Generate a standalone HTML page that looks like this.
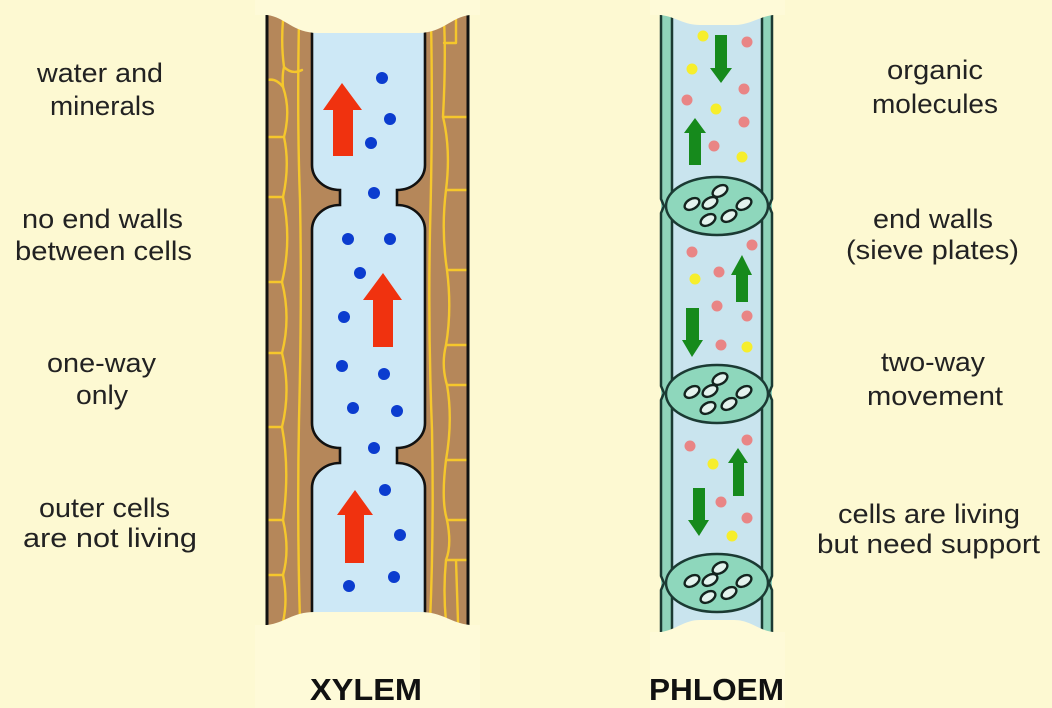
<!DOCTYPE html>
<html><head><meta charset="utf-8"><style>
html,body{margin:0;padding:0;background:#fdf9d2;}
svg{display:block;}
text{font-family:"Liberation Sans",Arial,sans-serif;}
</style></head><body>
<svg width="1052" height="708" viewBox="0 0 1052 708" xmlns="http://www.w3.org/2000/svg">
<rect x="0" y="0" width="1052" height="708" fill="#fdf9d2"/>

<!-- ============ XYLEM ============ -->
<rect x="267" y="8" width="201" height="624" fill="#b5875a"/>
<g fill="none" stroke="#f5c72c" stroke-width="2.4" stroke-linecap="round">
  <path d="M283,20 Q281,45 284,67 Q292,75 302,70 M284,67 Q282,75 283,87 Q291,110 284,137 Q290,165 283,197 Q292,240 282,282 Q291,318 282,353 Q291,390 282,427 Q290,470 283,520 Q290,550 283,575 Q288,600 283,622"/>
  <path d="M299,20 Q297,120 300,200 Q302,300 299,420 Q297,520 300,622"/>
  <path d="M268,80 Q276,78 283,87 M268,137 L284,137 M268,197 L283,197 M268,282 L282,282 M268,353 L282,353 M268,427 L282,427 M268,520 L283,520 M268,575 L283,575"/>
  <path d="M431,20 Q433,120 430,230 Q428,330 432,430 Q434,530 430,622"/>
  <path d="M444,20 Q446,60 443,117 Q451,150 446,190 Q441,230 447,270 Q452,310 446,345 Q441,365 447,385 Q453,420 446,460 Q441,500 447,520 Q452,545 446,560 Q443,590 446,622"/>
  <path d="M444,43 L456,43 M443,117 L467,117 M446,190 L467,190 M447,270 L467,270 M446,345 L467,345 M447,385 L467,385 M446,460 L467,460 M447,520 L467,520 M446,560 L467,560 M456,43 L456,20 M456,560 L458,622"/>
</g>
<path d="M312,10 L312,165 A28,25 0 0 0 340,190 L340,205 A28,25 0 0 0 312,230 L312,423 A28,25 0 0 0 340,448 L340,463 A28,25 0 0 0 312,488 L312,650 L425,650 L425,488 A28,25 0 0 0 397,463 L397,448 A28,25 0 0 0 425,423 L425,230 A28,25 0 0 0 397,205 L397,190 A28,25 0 0 0 425,165 L425,10 Z" fill="#cde8f6" stroke="#111" stroke-width="2.6"/>
<line x1="267" y1="8" x2="267" y2="632" stroke="#111" stroke-width="3"/>
<line x1="468" y1="8" x2="468" y2="632" stroke="#111" stroke-width="3"/>
<g fill="#0b3ccf">
  <circle cx="382" cy="78" r="6"/><circle cx="390" cy="119" r="6"/><circle cx="371" cy="143" r="6"/>
  <circle cx="374" cy="193" r="6"/><circle cx="348" cy="239" r="6"/><circle cx="390" cy="239" r="6"/>
  <circle cx="360" cy="273" r="6"/><circle cx="344" cy="317" r="6"/><circle cx="342" cy="366" r="6"/>
  <circle cx="384" cy="374" r="6"/><circle cx="353" cy="408" r="6"/><circle cx="397" cy="411" r="6"/>
  <circle cx="374" cy="448" r="6"/><circle cx="385" cy="490" r="6"/><circle cx="400" cy="535" r="6"/>
  <circle cx="394" cy="577" r="6"/><circle cx="349" cy="586" r="6"/>
</g>
<g fill="#f0320f">
  <polygon points="342,83 362,110 353,110 353,156 333,156 333,110 323,110"/>
  <polygon points="383,273 402,300 393,300 393,347 373,347 373,300 363,300"/>
  <polygon points="355,490 373,515 364,515 364,563 345,563 345,515 337,515"/>
</g>
<path d="M255,0 L255,15 L267,15 C285,17 293,33 318,33 L418,33 C443,33 451,17 470,15 L480,15 L480,0 Z" fill="#fefad8"/>
<path d="M255,708 L255,625 L267,625 C285,623 292,612 315,612 L420,612 C443,612 450,623 470,625 L480,625 L480,708 Z" fill="#fefad8"/>

<!-- ============ PHLOEM ============ -->
<rect x="661" y="8" width="111" height="630" fill="#8fd3ba"/>
<rect x="672" y="8" width="90" height="630" fill="#c9e4ee"/>
<g stroke="#1b3a33" stroke-width="2.5" fill="none">
  <path d="M661,8 L661,199 L664,206 L661,213 L661,386 L664,393 L661,400 L661,576 L664,583 L661,590 L661,638"/>
  <path d="M772,8 L772,199 L769,206 L772,213 L772,386 L769,393 L772,400 L772,576 L769,583 L772,590 L772,638"/>
  <line x1="672" y1="8" x2="672" y2="638"/>
  <line x1="762" y1="8" x2="762" y2="638"/>
</g>
<g stroke="#1b3a33" stroke-width="2.5" fill="#8ed7bc">
  <ellipse cx="717" cy="206" rx="51" ry="29"/>
  <ellipse cx="717" cy="394" rx="51" ry="29"/>
  <ellipse cx="717" cy="583" rx="51" ry="29"/>
</g>
<g stroke="#14241f" stroke-width="2.4" fill="#e4f3ee">
  <g transform="translate(717,206)">
    <ellipse cx="3" cy="-15" rx="8" ry="5" transform="rotate(-30 3 -15)"/>
    <ellipse cx="-25" cy="-2" rx="8" ry="5" transform="rotate(-30 -25 -2)"/>
    <ellipse cx="-7" cy="-3" rx="8" ry="5" transform="rotate(-30 -7 -3)"/>
    <ellipse cx="27" cy="-2" rx="8" ry="5" transform="rotate(-30 27 -2)"/>
    <ellipse cx="12" cy="10" rx="8" ry="5" transform="rotate(-30 12 10)"/>
    <ellipse cx="-9" cy="14" rx="8" ry="5" transform="rotate(-30 -9 14)"/>
  </g>
  <g transform="translate(717,394)">
    <ellipse cx="3" cy="-15" rx="8" ry="5" transform="rotate(-30 3 -15)"/>
    <ellipse cx="-25" cy="-2" rx="8" ry="5" transform="rotate(-30 -25 -2)"/>
    <ellipse cx="-7" cy="-3" rx="8" ry="5" transform="rotate(-30 -7 -3)"/>
    <ellipse cx="27" cy="-2" rx="8" ry="5" transform="rotate(-30 27 -2)"/>
    <ellipse cx="12" cy="10" rx="8" ry="5" transform="rotate(-30 12 10)"/>
    <ellipse cx="-9" cy="14" rx="8" ry="5" transform="rotate(-30 -9 14)"/>
  </g>
  <g transform="translate(717,583)">
    <ellipse cx="3" cy="-15" rx="8" ry="5" transform="rotate(-30 3 -15)"/>
    <ellipse cx="-25" cy="-2" rx="8" ry="5" transform="rotate(-30 -25 -2)"/>
    <ellipse cx="-7" cy="-3" rx="8" ry="5" transform="rotate(-30 -7 -3)"/>
    <ellipse cx="27" cy="-2" rx="8" ry="5" transform="rotate(-30 27 -2)"/>
    <ellipse cx="12" cy="10" rx="8" ry="5" transform="rotate(-30 12 10)"/>
    <ellipse cx="-9" cy="14" rx="8" ry="5" transform="rotate(-30 -9 14)"/>
  </g>
</g>
<g fill="#f6ee2c">
  <circle cx="703" cy="36" r="5.5"/><circle cx="692" cy="69" r="5.5"/><circle cx="716" cy="109" r="5.5"/>
  <circle cx="742" cy="157" r="5.5"/><circle cx="695" cy="279" r="5.5"/><circle cx="747" cy="347" r="5.5"/>
  <circle cx="713" cy="464" r="5.5"/><circle cx="732" cy="536" r="5.5"/>
</g>
<g fill="#e98585">
  <circle cx="747" cy="42" r="5.5"/><circle cx="744" cy="89" r="5.5"/><circle cx="687" cy="100" r="5.5"/>
  <circle cx="744" cy="122" r="5.5"/><circle cx="714" cy="146" r="5.5"/><circle cx="692" cy="252" r="5.5"/>
  <circle cx="752" cy="245" r="5.5"/><circle cx="719" cy="272" r="5.5"/><circle cx="717" cy="306" r="5.5"/>
  <circle cx="747" cy="316" r="5.5"/><circle cx="721" cy="345" r="5.5"/><circle cx="690" cy="446" r="5.5"/>
  <circle cx="747" cy="440" r="5.5"/><circle cx="721" cy="502" r="5.5"/><circle cx="747" cy="518" r="5.5"/>
</g>
<g fill="#168a1c">
  <polygon points="715,35 727,35 727,68 732,68 721,83 710,68 715,68"/>
  <polygon points="695,118 706,133 701,133 701,165 689,165 689,133 684,133"/>
  <polygon points="742,255 752,275 748,275 748,302 736,302 736,275 731,275"/>
  <polygon points="686,308 699,308 699,340 703,340 692,357 682,340 686,340"/>
  <polygon points="738,448 748,463 744,463 744,496 733,496 733,463 728,463"/>
  <polygon points="693,488 705,488 705,520 709,520 699,536 688,520 693,520"/>
</g>
<path d="M650,0 L650,15 L661,15 C676,17 684,25 700,25 L734,25 C750,25 758,17 773,15 L785,15 L785,0 Z" fill="#fefad8"/>
<path d="M650,708 L650,632 L661,632 C676,630 684,620 700,620 L734,620 C750,620 758,630 773,632 L785,632 L785,708 Z" fill="#fefad8"/>

<!-- ============ LABELS ============ -->
<g font-size="26.5" fill="#222">
  <text x="37" y="82" textLength="126" lengthAdjust="spacingAndGlyphs">water and</text>
  <text x="50" y="115" textLength="105" lengthAdjust="spacingAndGlyphs">minerals</text>
  <text x="22" y="228" textLength="161" lengthAdjust="spacingAndGlyphs">no end walls</text>
  <text x="15" y="260" textLength="177" lengthAdjust="spacingAndGlyphs">between cells</text>
  <text x="47" y="372" textLength="109" lengthAdjust="spacingAndGlyphs">one-way</text>
  <text x="76" y="404" textLength="52" lengthAdjust="spacingAndGlyphs">only</text>
  <text x="39" y="517" textLength="131" lengthAdjust="spacingAndGlyphs">outer cells</text>
  <text x="23" y="547" textLength="174" lengthAdjust="spacingAndGlyphs">are not living</text>

  <text x="887" y="79" textLength="96" lengthAdjust="spacingAndGlyphs">organic</text>
  <text x="872" y="113" textLength="126" lengthAdjust="spacingAndGlyphs">molecules</text>
  <text x="873" y="228" textLength="120" lengthAdjust="spacingAndGlyphs">end walls</text>
  <text x="846" y="259" textLength="173" lengthAdjust="spacingAndGlyphs">(sieve plates)</text>
  <text x="881" y="371" textLength="104" lengthAdjust="spacingAndGlyphs">two-way</text>
  <text x="867" y="405" textLength="136" lengthAdjust="spacingAndGlyphs">movement</text>
  <text x="838" y="523" textLength="182" lengthAdjust="spacingAndGlyphs">cells are living</text>
  <text x="817" y="553" textLength="223" lengthAdjust="spacingAndGlyphs">but need support</text>
</g>
<g font-size="31" font-weight="bold" fill="#111">
  <text x="310" y="700" textLength="112" lengthAdjust="spacingAndGlyphs">XYLEM</text>
  <text x="649" y="700" textLength="135" lengthAdjust="spacingAndGlyphs">PHLOEM</text>
</g>
</svg>
</body></html>
